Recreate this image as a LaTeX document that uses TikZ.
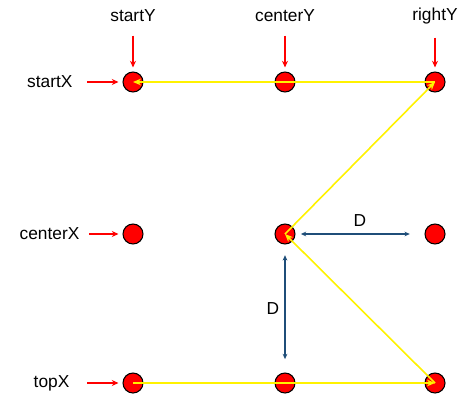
\documentclass[tikz,border=0pt]{standalone}
\usepackage{fontspec}
\setmainfont{Liberation Sans}
\usetikzlibrary{arrows.meta, positioning}

\definecolor{dotred}{RGB}{255,0,0}
\definecolor{dimblue}{RGB}{31,78,121}

\begin{document}
\begin{tikzpicture}[x=0.75pt, y=-0.75pt,
    dot/.style={circle, draw=black, line width=0.8pt, fill=dotred, minimum size=15pt, inner sep=0pt},
    lbl/.style={font=\fontsize{13}{15}\selectfont, inner sep=1pt},
    ptr/.style={-{Stealth[length=5pt, width=4.5pt]}, draw=dotred, line width=1.5pt},
    path/.style={-{Stealth[length=6pt, width=5pt]}, draw=yellow, line width=1.2pt},
    dim/.style={{Stealth[length=4pt, width=3.5pt]}-{Stealth[length=4pt, width=3.5pt]}, draw=dimblue, line width=0.9pt}]
    \useasboundingbox (0,0) rectangle (474,407);

    % grid of points
    \node[dot] (a1) at (133,82) {};
    \node[dot] (a2) at (285,82) {};
    \node[dot] (a3) at (435,82) {};
    \node[dot] (b1) at (133,234) {};
    \node[dot] (b2) at (285,234) {};
    \node[dot] (b3) at (435,234) {};
    \node[dot] (c1) at (133,383) {};
    \node[dot] (c2) at (285,383) {};
    \node[dot] (c3) at (435,383) {};

    % labels
    \node[lbl] (sy) at (133,16) {startY};
    \node[lbl] (cy) at (285,16) {centerY};
    \node[lbl] (ry) at (435,16) {rightY};
    \node[lbl, anchor=east] (sx) at (74,82) {startX};
    \node[lbl, anchor=east] (cx) at (81,234) {centerX};
    \node[lbl, anchor=east] (tx) at (71,383) {topX};

    \draw[ptr, shorten <=9pt, shorten >=3pt] (sy) -- (a1);
    \draw[ptr, shorten <=9pt, shorten >=3pt] (cy) -- (a2);
    \draw[ptr, shorten <=9pt, shorten >=3pt] (ry) -- (a3);
    \draw[ptr, shorten <=10pt, shorten >=3pt] (sx) -- (a1);
    \draw[ptr, shorten <=6pt, shorten >=3pt] (cx) -- (b1);
    \draw[ptr, shorten <=12pt, shorten >=3pt] (tx) -- (c1);

    % scan path
    \draw[path] (c1.center) -- (c3.center);
    \draw[path] (c3.center) -- (b2.center);
    \draw[path] (b2.center) -- (a3.center);
    \draw[path] (a3.center) -- (a1.center);

    % distances
    \draw[dim, shorten <=4pt, shorten >=11pt] (b2) -- node[lbl, above=4pt] (dh) {D} (b3);
    \draw[dim, shorten <=8pt, shorten >=10pt] (b2) -- node[lbl, left=3pt] (dv) {D} (c2);
\end{tikzpicture}
\end{document}
